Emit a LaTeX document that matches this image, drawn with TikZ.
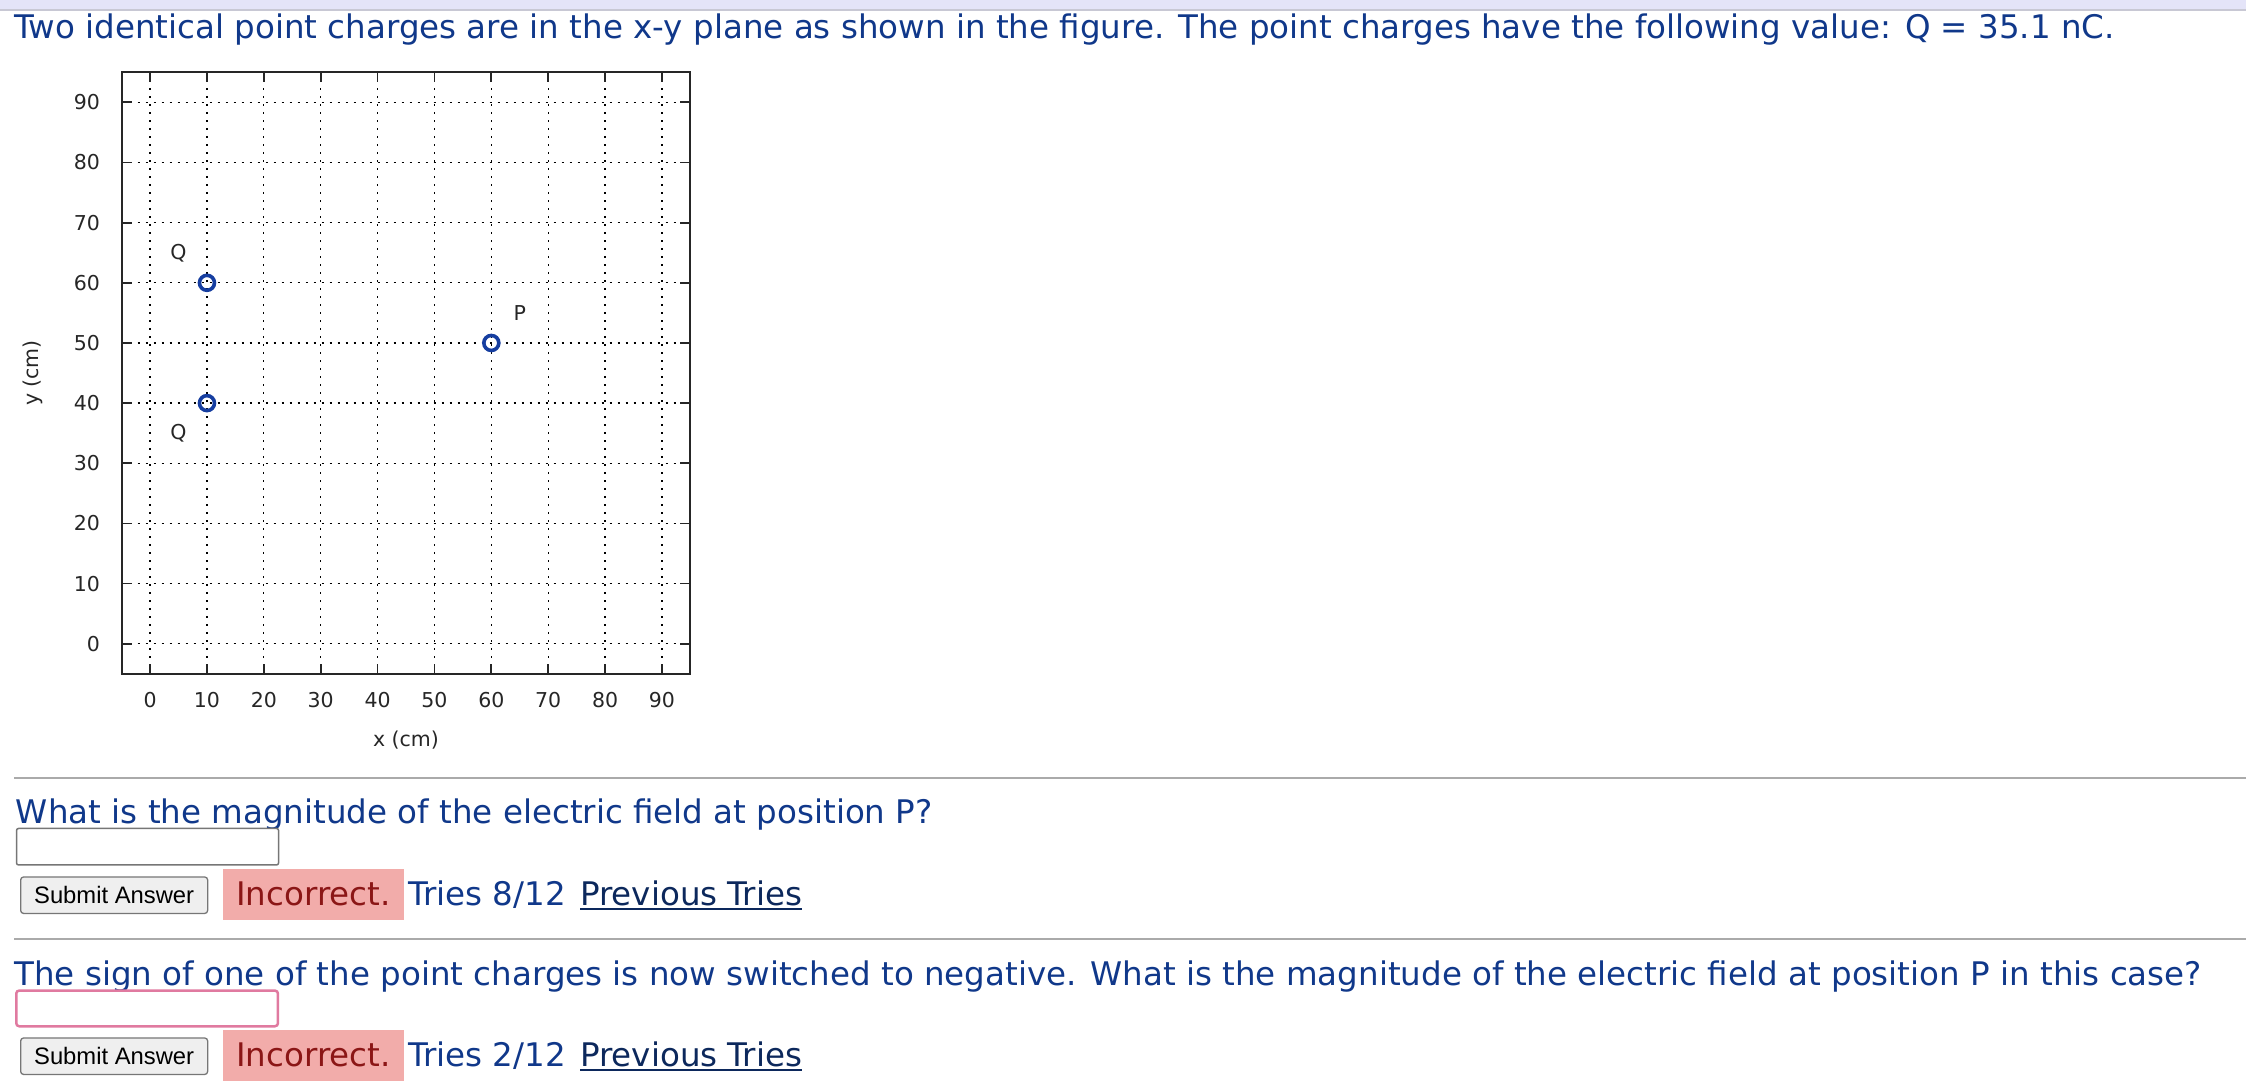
\documentclass[tikz,border=0pt]{standalone}
\usepackage{fontspec}
\setmainfont{DejaVu Sans}
\newfontfamily\btnfont{Liberation Sans}
\usetikzlibrary{positioning}

\definecolor{qblue}{RGB}{16,56,138}
\definecolor{navy}{RGB}{12,40,92}
\definecolor{mblue}{RGB}{22,62,160}
\definecolor{bandc}{RGB}{228,228,248}
\definecolor{bandline}{RGB}{200,200,212}
\definecolor{hrgray}{RGB}{170,170,170}
\definecolor{btngray}{RGB}{118,118,118}
\definecolor{btnfill}{RGB}{239,239,239}
\definecolor{incfill}{RGB}{242,172,170}
\definecolor{incred}{RGB}{139,22,22}
\definecolor{pinkc}{RGB}{224,122,160}

\begin{document}
\begin{tikzpicture}[x=1pt, y=-1pt,
    qtext/.style={anchor=base west, inner sep=0pt, text=qblue, font=\fontsize{32.5}{39}\selectfont},
    linktext/.style={qtext, text=navy},
    ticklabel/.style={inner sep=0pt, text=black!85, font=\fontsize{20.5}{24}\selectfont},
    charge/.style={circle, draw=mblue, line width=3.6pt, minimum size=15pt, inner sep=0pt},
    gridline/.style={line width=1.3pt, dash pattern=on 2pt off 6pt},
    hrule/.style={draw=hrgray, line width=2pt},
    field/.style={anchor=north west, draw=btngray, fill=white, line width=1.5pt, rounded corners=2pt, minimum width=262pt, minimum height=36.5pt, inner sep=0pt},
    btn/.style={anchor=north west, draw=btngray, fill=btnfill, line width=1.3pt, rounded corners=3pt, minimum width=187pt, minimum height=36.5pt, inner sep=0pt, font=\btnfont\fontsize{23.8}{28}\selectfont},
    flag/.style={anchor=north west, fill=incfill, text=incred, minimum width=181pt, minimum height=51.7pt, inner sep=0pt, font=\fontsize{32.5}{39}\selectfont}]
    \useasboundingbox (0,0) rectangle (2246,1088);
    % top band
    \fill[bandc] (0,0) rectangle (2246,9.5);
    \draw[bandline, line width=1.2pt] (0,10) -- (2246,10);
    \node[qtext] (title) at (14,38.3) {Two identical point charges are in the x-y plane as shown in the figure. The point charges have the following value: Q = 35.1 nC.};

    % plot
    \begin{scope}[shift={(150.1,643.7)}, x=5.687pt, y=6.015pt]
        \draw[gridline] foreach \v in {0,10,...,90} {(\v,-5) -- (\v,95) (-5,\v) -- (95,\v)};
        \draw[line width=1.8pt, black!85] foreach \v in {0,10,...,90} {(\v,-5) -- ++(0,1.6) (\v,95) -- ++(0,-1.6) (-5,\v) -- ++(1.8,0) (95,\v) -- ++(-1.8,0)};
        \draw[line width=1.8pt, black!85] (-5,-5) rectangle (95,95);
        \foreach \v in {0,10,...,90} {
            \node[ticklabel, anchor=east] (ylab\v) at (-8.8,\v) {\v};
            \node[ticklabel] (xlab\v) at (\v,-9.4) {\v};
        }
        \node[ticklabel] (xtitle) at (45,-16) {x (cm)};
        \node[ticklabel, rotate=90] (ytitle) at (-20.6,45) {y (cm)};
        \node[charge] (Q1) at (10,60) {};
        \node[charge] (Q2) at (10,40) {};
        \node[charge] (P) at (60,50) {};
        \node[ticklabel] (Q1lab) at (5,65) {Q};
        \node[ticklabel] (Q2lab) at (5,35) {Q};
        \node[ticklabel] (Plab) at (65,55) {P};
    \end{scope}

    % first question
    \draw[hrule] (14,778.3) -- (2246,778.3);
    \node[qtext] (ask1) at (15.8,823.3) {What is the magnitude of the electric field at position P?};
    \node[field] (ans1) at (15.8,827.7) {};
    \node[btn] (sub1) at (20,876.3) {Submit Answer};
    \node[flag] (inc1) at (222.7,868.3) {Incorrect.};
    \node[qtext] (tries1) at (408,905.7) {Tries 8/12};
    \node[linktext] (prev1) at (580,905.7) {Previous Tries};
    \draw[navy, line width=2pt] ([yshift=-3.6pt]prev1.base west) -- ([yshift=-3.6pt]prev1.base east);

    % second question
    \draw[hrule] (14,939.3) -- (2246,939.3);
    \node[qtext] (ask2) at (14.3,985) {The sign of one of the point charges is now switched to negative. What is the magnitude of the electric field at position P in this case?};
    \node[field, draw=pinkc, line width=2.5pt, rounded corners=3pt, minimum width=261.7pt, minimum height=35.7pt] (ans2) at (15,989.3) {};
    \node[btn] (sub2) at (20,1037.3) {Submit Answer};
    \node[flag] (inc2) at (222.7,1029.3) {Incorrect.};
    \node[qtext] (tries2) at (408,1066.7) {Tries 2/12};
    \node[linktext] (prev2) at (580,1066.7) {Previous Tries};
    \draw[navy, line width=2pt] ([yshift=-3.6pt]prev2.base west) -- ([yshift=-3.6pt]prev2.base east);
\end{tikzpicture}
\end{document}
